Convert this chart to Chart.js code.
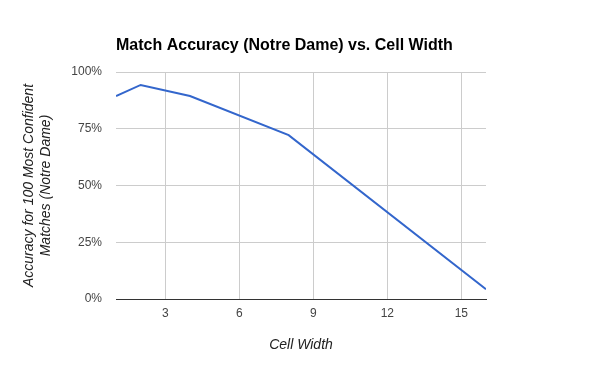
<!DOCTYPE html>
<html>
<head>
<meta charset="utf-8">
<script src="https://cdn.jsdelivr.net/npm/chart.js@4.4.0/dist/chart.umd.min.js"></script>
<style>
  html, body { margin: 0; padding: 0; background: #fff; }
  #wrap { width: 600px; height: 371px; }
</style>
</head>
<body>
<div id="wrap"><canvas id="chart" width="600" height="371"></canvas></div>
<script>
// данные графика
const cellWidths = [1, 2, 4, 8, 16];
const accuracy = [89.4, 94.3, 89.4, 72.2, 4.3];
const xTickValues = [3, 6, 9, 12, 15];
const yTickValues = [0, 25, 50, 75, 100];

const chartTitle = 'Match Accuracy (Notre Dame) vs. Cell Width';
const xTitle = 'Cell Width';
const yTitle = ['Accuracy for 100 Most Confident', 'Matches (Notre Dame)'];

// заголовок слева над областью графика
const titlePlugin = {
  id: 'leftTitle',
  afterDraw(chart) {
    const ctx = chart.ctx;
    ctx.save();
    ctx.font = 'bold 16px "Liberation Sans", Arial, sans-serif';
    ctx.fillStyle = '#000';
    ctx.textAlign = 'left';
    ctx.textBaseline = 'middle';
    ctx.fillText(chartTitle, chart.chartArea.left, 46);
    ctx.restore();
  }
};

const ctx = document.getElementById('chart').getContext('2d');
const chart = new Chart(ctx, {
  type: 'line',
  data: {
    datasets: [{
      data: cellWidths.map((x, i) => ({ x: x, y: accuracy[i] })),
      borderColor: '#3366cc',
      borderWidth: 2,
      pointRadius: 0,
      tension: 0,
      fill: false
    }]
  },
  options: {
    responsive: false,
    animation: false,
    layout: { padding: { left: 0, right: 114, top: 72, bottom: 0 } },
    plugins: {
      legend: { display: false },
      tooltip: { enabled: false }
    },
    scales: {
      x: {
        type: 'linear',
        min: 1,
        max: 16,
        afterBuildTicks: axis => { axis.ticks = xTickValues.map(v => ({ value: v })); },
        afterFit: axis => { axis.height = 72; },
        grid: { color: '#cccccc', drawTicks: false },
        border: { display: true, color: '#333333', width: 1 },
        ticks: {
          padding: 7,
          color: '#444444',
          font: { family: '"Liberation Sans", Arial, sans-serif', size: 12 }
        },
        title: {
          display: true,
          text: xTitle,
          color: '#222222',
          font: { family: '"Liberation Sans", Arial, sans-serif', size: 14, style: 'italic' },
          padding: { top: 0, bottom: 17 }
        }
      },
      y: {
        min: 0,
        max: 100,
        afterBuildTicks: axis => { axis.ticks = yTickValues.map(v => ({ value: v })); },
        afterFit: axis => { axis.width = 116; },
        grid: {
          color: c => c.tick && c.tick.value === 0 ? '#333333' : '#cccccc',
          drawTicks: false
        },
        border: { display: false },
        ticks: {
          padding: 14,
          color: '#444444',
          font: { family: '"Liberation Sans", Arial, sans-serif', size: 12 },
          callback: v => v + '%'
        },
        title: {
          display: true,
          text: yTitle,
          color: '#222222',
          font: { family: '"Liberation Sans", Arial, sans-serif', size: 14, style: 'italic', lineHeight: 1.25 },
          padding: { top: 20, bottom: 0 }
        }
      }
    }
  },
  plugins: [titlePlugin]
});
</script>
</body>
</html>
